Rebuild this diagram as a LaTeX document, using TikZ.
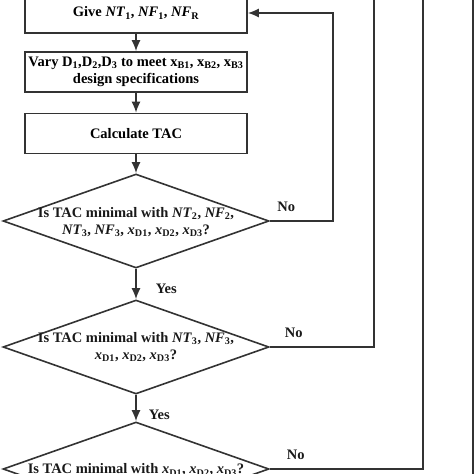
\documentclass[tikz,border=0pt]{standalone}
\usepackage{fontspec}
\setmainfont{Liberation Serif}
\usetikzlibrary{arrows.meta, positioning, shapes.geometric}
\def\boxwidth{222pt}
\newcommand{\sub}[1]{\textsubscript{#1}}

\begin{document}
\begin{tikzpicture}[x=1pt,y=-1pt,->,>={Latex[length=11pt,width=9pt]},draw=black!80,line width=1.6pt,
    font=\fontsize{14.5}{17}\selectfont\bfseries]
    \tikzstyle{process}=[rectangle, draw=black!80, minimum width=\boxwidth, minimum height=40pt, inner sep=1pt, align=center]
    \tikzstyle{decision}=[diamond, draw=black!80, minimum width=266pt, minimum height=94pt, inner sep=0pt]
    \tikzstyle{annot}=[inner sep=0pt, text=black!90]

    \useasboundingbox (0,0) rectangle (474,474);
    \clip (0,0) rectangle (474,474);

    % Boxes
    \node[process] (give) at (136,13) {Give \textit{NT}\sub{1},\ \textit{NF}\sub{1}, \textit{NF}\sub{R}};
    \node[process] (vary) at (136,72) {Vary D\sub{1},D\sub{2},D\sub{3} to meet x\sub{B1}, x\sub{B2}, x\sub{B3}\\design specifications};
    \node[process] (tac) at (136,133.5) {Calculate TAC};

    % Decisions
    \node[decision, label={[align=center, text=black!90, yshift=-1pt]center:{Is TAC minimal with \textit{NT}\sub{2}, \textit{NF}\sub{2},\\\textit{NT}\sub{3}, \textit{NF}\sub{3},\ \textit{x}\sub{D1}, \textit{x}\sub{D2}, \textit{x}\sub{D3}?}}] (min1) at (136,221) {};
    \node[decision, label={[align=center, text=black!90]center:{Is TAC minimal with \textit{NT}\sub{3}, \textit{NF}\sub{3},\\\textit{x}\sub{D1}, \textit{x}\sub{D2}, \textit{x}\sub{D3}?}}] (min2) at (136,347) {};
    \node[decision, label={[align=center, text=black!90, yshift=-1pt]center:{Is TAC minimal with \textit{x}\sub{D1}, \textit{x}\sub{D2}, \textit{x}\sub{D3}?}}] (min3) at (136,469) {};

    % Loop-back lines
    \coordinate (back1) at (333,0);
    \coordinate (back2) at (374,-20);
    \coordinate (back3) at (423,-20);
    \coordinate (edgetop) at (473,-20);
    \coordinate (edgebot) at (473,494);

    % Main flow
    \draw (give) -- (vary);
    \draw (vary) -- (tac);
    \draw (tac) -- (min1);
    \draw (min1.south) -- node[annot, right, pos=.65, xshift=19pt] {Yes} (min2.north);
    \draw (min2.south) -- node[annot, right, pos=.77, xshift=12pt] {Yes} (min3.north);

    \draw (min1.east) -- node[annot, above, pos=.26, yshift=9pt] {No} (min1.east -| back1) |- (give.east);
    \draw[-] (min2.east) -- node[annot, above, pos=.23, yshift=9pt] {No} (min2.east -| back2) -- (back2);
    \draw[-] (min3.east) -- node[annot, above, pos=.17, yshift=9pt] {No} (min3.east -| back3) -- (back3);
    \draw[-] (edgebot) -- (edgetop);
\end{tikzpicture}
\end{document}
